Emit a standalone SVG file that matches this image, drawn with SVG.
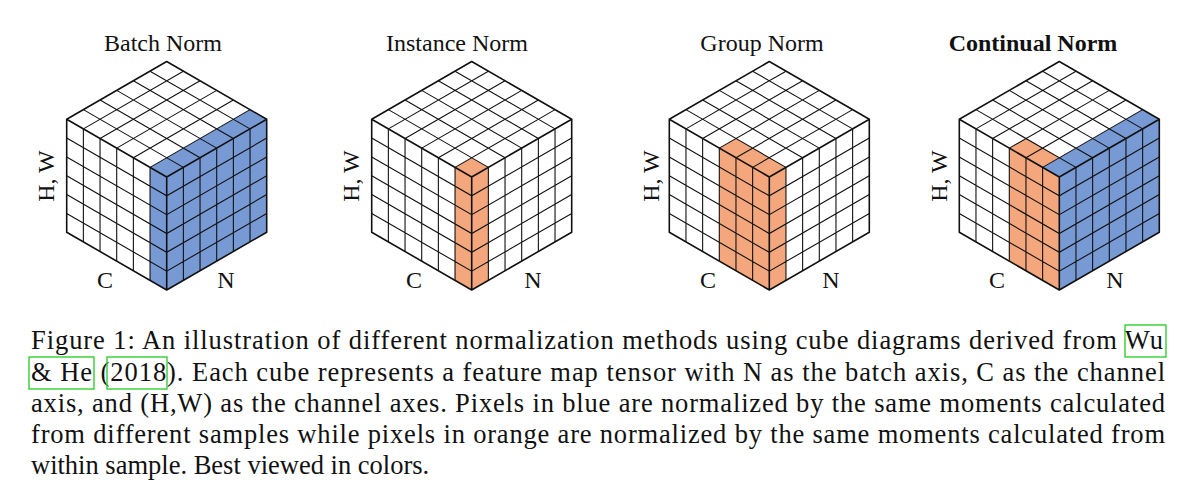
<svg xmlns="http://www.w3.org/2000/svg" width="1186" height="487" viewBox="0 0 1186 487">
<style>
.t{font-family:"Liberation Serif",serif;font-size:24px;fill:#111}
.cap{font-family:"Liberation Serif",serif;font-size:26.5px;fill:#111}
.g{fill:none;stroke:#111;stroke-width:1.1}
.o{fill:none;stroke:#111;stroke-width:1.6;stroke-linejoin:round}
.b{fill:#7799d4}
.r{fill:#f4a77c}
.box{fill:none;stroke:#2c2;stroke-width:1.3}
</style>
<defs>
<g id="grid">
<path class="g" d="M-16.667,-9.623V103.377M-33.333,-19.245V93.755M-50,-28.868V84.132M-66.667,-38.49V74.51M-83.333,-48.113V64.887
M16.667,-9.623V103.377M33.333,-19.245V93.755M50,-28.868V84.132M66.667,-38.49V74.51M83.333,-48.113V64.887
M-100,-38.902L0,18.833L100,-38.902M-100,-20.068L0,37.667L100,-20.068M-100,-1.235L0,56.5L100,-1.235M-100,17.598L0,75.333L100,17.598M-100,36.432L0,94.167L100,36.432
M16.667,-9.623L-83.333,-67.358M33.333,-19.245L-66.667,-76.98M50,-28.868L-50,-86.603M66.667,-38.49L-33.333,-96.225M83.333,-48.113L-16.667,-105.848
M-16.667,-9.623L83.333,-67.358M-33.333,-19.245L66.667,-76.98M-50,-28.868L50,-86.603M-66.667,-38.49L33.333,-96.225M-83.333,-48.113L16.667,-105.848"/>
<path class="o" d="M0,0L-100,-57.735L0,-115.47L100,-57.735ZM-100,-57.735V55.265L0,113L100,55.265V-57.735M0,0V113"/>
</g>
</defs>
<g id="batch-norm">
<text class="t" x="163" y="51" text-anchor="middle">Batch Norm</text>
<g transform="translate(166.7,177)">
<path class="b" d="M0,0L-16.667,-9.623V103.377L0,113ZM0,0L100,-57.735V55.265L0,113ZM0,0L100,-57.735L83.333,-67.358L-16.667,-9.623Z"/>
<use href="#grid"/>
</g>
<text class="t" transform="translate(54,176) rotate(-90)" text-anchor="middle">H, W</text>
<text class="t" x="105" y="288" text-anchor="middle">C</text>
<text class="t" x="226" y="288" text-anchor="middle">N</text>
</g>
<g id="instance-norm">
<text class="t" x="457" y="51" text-anchor="middle">Instance Norm</text>
<g transform="translate(471.7,177)">
<path class="r" d="M0,0L-16.667,-9.623V103.377L0,113ZM0,0L16.667,-9.623V103.377L0,113ZM0,0L16.667,-9.623L0,-19.245L-16.667,-9.623Z"/>
<use href="#grid"/>
</g>
<text class="t" transform="translate(359,176) rotate(-90)" text-anchor="middle">H, W</text>
<text class="t" x="414" y="288" text-anchor="middle">C</text>
<text class="t" x="533" y="288" text-anchor="middle">N</text>
</g>
<g id="group-norm">
<text class="t" x="762" y="51" text-anchor="middle">Group Norm</text>
<g transform="translate(769.3,177)">
<path class="r" d="M0,0L-50,-28.868V84.132L0,113ZM0,0L16.667,-9.623V103.377L0,113ZM0,0L16.667,-9.623L-33.333,-38.49L-50,-28.868Z"/>
<use href="#grid"/>
</g>
<text class="t" transform="translate(659,176) rotate(-90)" text-anchor="middle">H, W</text>
<text class="t" x="708" y="288" text-anchor="middle">C</text>
<text class="t" x="831" y="288" text-anchor="middle">N</text>
</g>
<g id="continual-norm">
<text class="t" x="1033" y="51" text-anchor="middle" font-weight="bold">Continual Norm</text>
<g transform="translate(1059.3,177)">
<path class="r" d="M0,0L-50,-28.868V84.132L0,113ZM-16.667,-9.623L0,-19.245L-33.333,-38.49L-50,-28.868Z"/>
<path class="b" d="M0,0L100,-57.735V55.265L0,113ZM0,0L100,-57.735L83.333,-67.358L-16.667,-9.623Z"/>
<use href="#grid"/>
</g>
<text class="t" transform="translate(947,176) rotate(-90)" text-anchor="middle">H, W</text>
<text class="t" x="997" y="288" text-anchor="middle">C</text>
<text class="t" x="1115" y="288" text-anchor="middle">N</text>
</g>
<g id="caption">
<text class="cap" x="31" y="349" textLength="1132" lengthAdjust="spacing">Figure 1: An illustration of different normalization methods using cube diagrams derived from Wu</text>
<text class="cap" x="31" y="381" textLength="1134" lengthAdjust="spacing">&amp; He (2018). Each cube represents a feature map tensor with N as the batch axis, C as the channel</text>
<text class="cap" x="31" y="412" textLength="1134" lengthAdjust="spacing">axis, and (H,W) as the channel axes. Pixels in blue are normalized by the same moments calculated</text>
<text class="cap" x="31" y="443" textLength="1134" lengthAdjust="spacing">from different samples while pixels in orange are normalized by the same moments calculated from</text>
<text class="cap" x="31" y="474">within sample. Best viewed in colors.</text>
<rect class="box" x="1125" y="325" width="41" height="32"/>
<rect class="box" x="29" y="357" width="65" height="32"/>
<rect class="box" x="107" y="357" width="60" height="32"/>
</g>
</svg>
